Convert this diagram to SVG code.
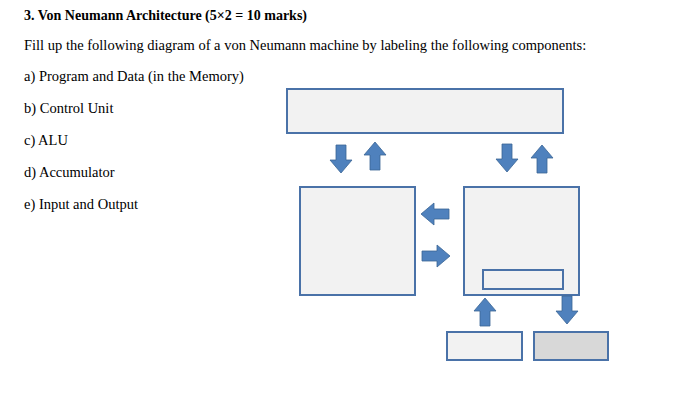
<svg xmlns="http://www.w3.org/2000/svg" width="676" height="401" viewBox="0 0 676 401">
<style>
text{font-family:"Liberation Serif",serif;font-size:14.5px;fill:#000}
.b{fill:#f2f2f2;stroke:#4a72a8;stroke-width:2}
.g{fill:#d8d8d8;stroke:#4a72a8;stroke-width:2}
.a{fill:#4f81bd;stroke:#3a6494;stroke-width:0.8}
</style>
<defs>
<path id="dn" d="M-5,-15 H5 V0 H11 L0,13 L-11,0 H-5 Z"/>
</defs>
<rect width="676" height="401" fill="#fff"/>
<text x="24" y="20" font-weight="bold" style="font-size:14px">3. Von Neumann Architecture (5×2 = 10 marks)</text>
<text x="24" y="50">Fill up the following diagram of   a von Neumann machine by labeling the following components:</text>
<text x="24" y="81">a) Program and Data (in the Memory)</text>
<text x="24" y="113">b) Control Unit</text>
<text x="24" y="145">c) ALU</text>
<text x="24" y="177">d) Accumulator</text>
<text x="24" y="209">e) Input and Output</text>
<g id="memory"><rect class="b" x="287" y="89" width="276" height="44"/></g>
<g id="left"><rect class="b" x="300" y="187" width="115" height="108"/></g>
<g id="right"><rect class="b" x="464" y="187" width="115" height="108"/><rect class="b" x="483" y="270" width="80" height="19"/></g>
<g id="in"><rect class="b" x="447" y="332" width="75" height="28"/></g>
<g id="out"><rect class="g" x="534" y="332" width="74" height="28"/></g>
<g id="connectors">
<use href="#dn" class="a" transform="translate(341,160)"/>
<use href="#dn" class="a" transform="translate(375,155) rotate(180)"/>
<use href="#dn" class="a" transform="translate(507,159)"/>
<use href="#dn" class="a" transform="translate(542,158) rotate(180)"/>
<use href="#dn" class="a" transform="translate(434,214) rotate(90)"/>
<use href="#dn" class="a" transform="translate(437,256) rotate(-90)"/>
<use href="#dn" class="a" transform="translate(485,311) rotate(180)"/>
<use href="#dn" class="a" transform="translate(567,311)"/>
</g>
</svg>
